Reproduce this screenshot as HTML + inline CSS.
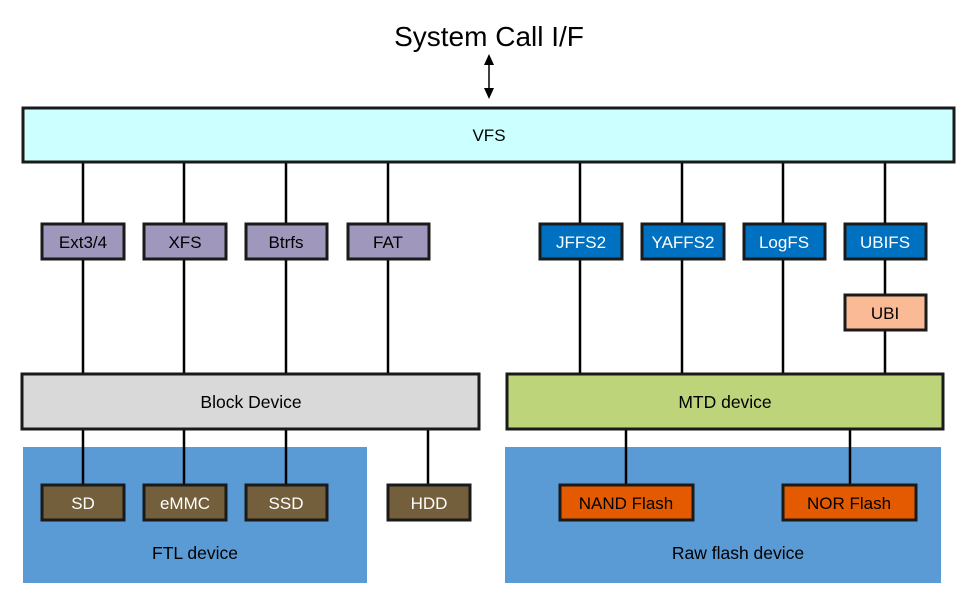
<!DOCTYPE html>
<html><head><meta charset="utf-8"><style>
html,body{margin:0;padding:0;background:#fff;}
svg{display:block;}
text{font-family:"Liberation Sans",sans-serif;}
</style></head><body>
<svg width="975" height="592" viewBox="0 0 975 592" xmlns="http://www.w3.org/2000/svg">
<rect x="23" y="447" width="344" height="136" fill="#5B9BD5"/>
<rect x="505" y="447" width="436" height="136" fill="#5B9BD5"/>
<text x="489" y="46" font-size="28" text-anchor="middle" fill="#000">System Call I/F</text>
<line x1="489" y1="58" x2="489" y2="95" stroke="#000" stroke-width="1.5"/>
<path d="M484,65 L489,54 L494,65 z" fill="#000"/>
<path d="M484,88 L489,99 L494,88 z" fill="#000"/>
<g stroke="#000" stroke-width="2.5">
<line x1="83" y1="162" x2="83" y2="374"/>
<line x1="184" y1="162" x2="184" y2="374"/>
<line x1="286" y1="162" x2="286" y2="374"/>
<line x1="388" y1="162" x2="388" y2="374"/>
<line x1="580" y1="162" x2="580" y2="374"/>
<line x1="682" y1="162" x2="682" y2="374"/>
<line x1="783" y1="162" x2="783" y2="374"/>
<line x1="885" y1="162" x2="885" y2="374"/>
<line x1="83" y1="428" x2="83" y2="485"/>
<line x1="184" y1="428" x2="184" y2="485"/>
<line x1="286" y1="428" x2="286" y2="485"/>
<line x1="428" y1="428" x2="428" y2="485"/>
<line x1="626" y1="428" x2="626" y2="485"/>
<line x1="850" y1="428" x2="850" y2="485"/>
</g>
<g stroke="#1a1a1a" stroke-width="3">
<rect x="23" y="108" width="931" height="54" fill="#CCFFFF"/>
<rect x="22" y="374" width="457" height="55" fill="#D9D9D9"/>
<rect x="507" y="374" width="436" height="55" fill="#BDD47A"/>
<rect x="42" y="224" width="82" height="35" fill="#9F98BC"/>
<rect x="144" y="224" width="82" height="35" fill="#9F98BC"/>
<rect x="246" y="224" width="81" height="35" fill="#9F98BC"/>
<rect x="348" y="224" width="81" height="35" fill="#9F98BC"/>
<rect x="540" y="224" width="82" height="35" fill="#0070C0"/>
<rect x="642" y="224" width="82" height="35" fill="#0070C0"/>
<rect x="744" y="224" width="81" height="35" fill="#0070C0"/>
<rect x="845" y="224" width="81" height="35" fill="#0070C0"/>
<rect x="845" y="295" width="81" height="35" fill="#FBBA96"/>
<rect x="42" y="485" width="82" height="35" fill="#735F3B"/>
<rect x="144" y="485" width="82" height="35" fill="#735F3B"/>
<rect x="246" y="485" width="81" height="35" fill="#735F3B"/>
<rect x="388" y="485" width="82" height="35" fill="#735F3B"/>
<rect x="560" y="485" width="133" height="35" fill="#E35A00"/>
<rect x="783" y="485" width="133" height="35" fill="#E35A00"/>
</g>
<g font-size="17" text-anchor="middle" fill="#000">
<text x="489" y="141">VFS</text>
<text x="251" y="408" font-size="17.5">Block Device</text>
<text x="725" y="408" font-size="17.5">MTD device</text>
<text x="83" y="248">Ext3/4</text>
<text x="185" y="248">XFS</text>
<text x="286" y="248">Btrfs</text>
<text x="388" y="248">FAT</text>
<text x="885" y="319">UBI</text>
<text x="626" y="509">NAND Flash</text>
<text x="849" y="509">NOR Flash</text>
<text x="195" y="559" font-size="17.5">FTL device</text>
<text x="738" y="559" font-size="17.5">Raw flash device</text>
</g>
<g font-size="17" text-anchor="middle" fill="#fff">
<text x="581" y="248">JFFS2</text>
<text x="683" y="248">YAFFS2</text>
<text x="784" y="248">LogFS</text>
<text x="885" y="248">UBIFS</text>
<text x="83" y="509">SD</text>
<text x="185" y="509">eMMC</text>
<text x="286" y="509">SSD</text>
<text x="429" y="509">HDD</text>
</g>
</svg>
</body></html>
